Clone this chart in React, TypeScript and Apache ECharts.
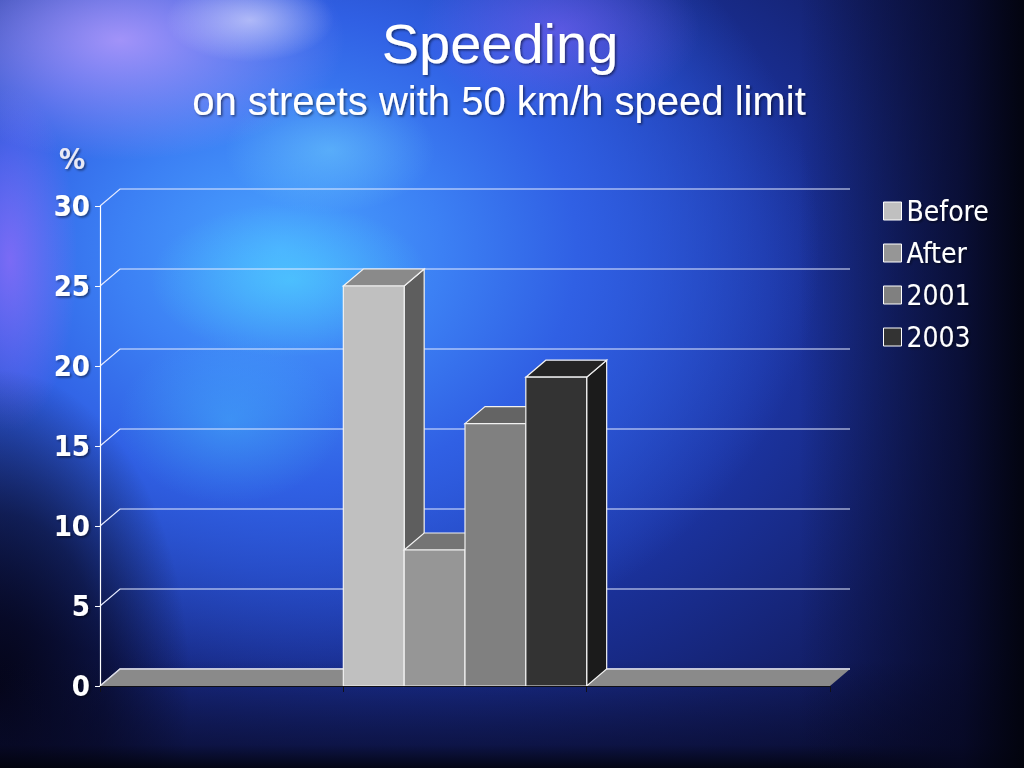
import React, { useEffect, useRef } from "react";
import * as echarts from "echarts";

// ---- data ----
const seriesNames = ["Before", "After", "2001", "2003"];
const seriesValues = [25.0, 8.5, 16.4, 19.3];
const categories = ["left", "streets", "right"];
const barCategoryIndex = 1;
const yTicks = [0, 5, 10, 15, 20, 25, 30];

// ---- styles ----
const frontColors = ["#c0c0c0", "#969696", "#808080", "#333333"];
const topColors = ["#8a8a8a", "#747474", "#646464", "#242424"];
const sideColors = ["#5e5e5e", "#5a5a5a", "#4a4a4a", "#1b1b1b"];
const EDGE = "#f2f2f2";
const DX = 20;
const DY = -17;
const COND = "'DejaVu Sans Condensed', 'Liberation Sans Narrow', 'DejaVu Sans', sans-serif";

export default function App() {
  const ref = useRef<HTMLDivElement>(null);

  useEffect(() => {
    if (!ref.current) return;
    const chart = echarts.init(ref.current, undefined, { renderer: "svg" });

    const barSeries = seriesNames.map((name, i) => ({
      type: "custom",
      name,
      z: 3,
      clip: false,
      itemStyle: { color: frontColors[i] },
      data: [[barCategoryIndex, seriesValues[i]]],
      renderItem: (params: any, api: any) => {
        const cat = api.value(0);
        const v = api.value(1);
        const band = api.size([1, 0])[0];
        const base = api.coord([cat, 0]);
        const top = api.coord([cat, v]);
        const w = band / seriesNames.length;
        const x0 = base[0] - band / 2 + i * w;
        const x1 = x0 + w;
        const yb = base[1];
        const yt = top[1];
        return {
          type: "group",
          children: [
            {
              type: "polygon",
              shape: { points: [[x1, yt], [x1 + DX, yt + DY], [x1 + DX, yb + DY], [x1, yb]] },
              style: { fill: sideColors[i], stroke: EDGE, lineWidth: 1.2 },
            },
            {
              type: "polygon",
              shape: { points: [[x0, yt], [x1, yt], [x1 + DX, yt + DY], [x0 + DX, yt + DY]] },
              style: { fill: topColors[i], stroke: EDGE, lineWidth: 1.2 },
            },
            {
              type: "rect",
              shape: { x: x0, y: yt, width: w, height: yb - yt },
              style: { fill: frontColors[i], stroke: EDGE, lineWidth: 1.2 },
            },
          ],
        };
      },
    }));

    const wallSeries = {
      type: "custom",
      name: "wall",
      z: 1,
      clip: false,
      silent: true,
      data: yTicks.map((v) => [0, v]),
      renderItem: (params: any, api: any) => {
        const cs = params.coordSys;
        const y = api.coord([0, api.value(1)])[1];
        const x = cs.x;
        return {
          type: "polyline",
          shape: { points: [[x, y], [x + DX, y + DY], [x + cs.width + DX, y + DY]] },
          style: { stroke: "#e6ebff", lineWidth: 1.2, fill: null },
        };
      },
    };

    const floorSeries = {
      type: "custom",
      name: "floor",
      z: 2,
      clip: false,
      silent: true,
      data: [[0, 0]],
      renderItem: (params: any, api: any) => {
        const cs = params.coordSys;
        const yb = api.coord([0, 0])[1];
        const x = cs.x;
        const xr = cs.x + cs.width;
        return {
          type: "group",
          children: [
            {
              type: "polygon",
              shape: { points: [[x, yb], [xr, yb], [xr + DX, yb + DY], [x + DX, yb + DY]] },
              style: { fill: "#8a8a8a" },
            },
            {
              type: "polyline",
              shape: { points: [[x, yb], [x + DX, yb + DY], [xr + DX, yb + DY]] },
              style: { stroke: "#dcdce6", lineWidth: 1.5, fill: null },
            },
          ],
        };
      },
    };

    const shadow = {
      textShadowColor: "rgba(0,0,0,0.5)",
      textShadowBlur: 2,
      textShadowOffsetX: 1.5,
      textShadowOffsetY: 1.5,
    };

    chart.setOption({
      animation: false,
      backgroundColor: "transparent",
      grid: { left: 100, right: 194, top: 206, bottom: 82, containLabel: false },
      xAxis: {
        type: "category",
        data: categories,
        z: 5,
        axisLine: { show: true, lineStyle: { color: "#101018", width: 1.2 } },
        axisTick: { show: true, length: 6, lineStyle: { color: "#101018" } },
        axisLabel: { show: false },
        splitLine: { show: false },
      },
      yAxis: {
        type: "value",
        min: 0,
        max: 30,
        interval: 5,
        z: 5,
        axisLine: { show: true, lineStyle: { color: "#ffffff", width: 1.2 } },
        axisTick: { show: true, length: 5, lineStyle: { color: "#ffffff" } },
        axisLabel: {
          color: "#ffffff",
          fontFamily: COND,
          fontWeight: "bold",
          fontSize: 29,
          margin: 10,
          ...shadow,
        },
        splitLine: { show: false },
      },
      legend: {
        data: seriesNames,
        orient: "vertical",
        left: 878,
        top: 191,
        itemWidth: 18,
        itemHeight: 18,
        itemGap: 12,
        icon: "rect",
        itemStyle: { borderColor: "#ffffff", borderWidth: 1 },
        textStyle: {
          color: "#ffffff",
          fontFamily: COND,
          fontSize: 28,
          lineHeight: 30,
          ...shadow,
        },
      },
      graphic: [
        {
          type: "text",
          x: 500,
          y: 43,
          style: {
            text: "Speeding",
            fill: "#ffffff",
            font: "56px 'Liberation Sans', Arial, sans-serif",
            textAlign: "center",
            textVerticalAlign: "middle",
            ...shadow,
          },
        },
        {
          type: "text",
          x: 499,
          y: 101,
          style: {
            text: "on streets with 50 km/h speed limit",
            fill: "#ffffff",
            font: "40px 'Liberation Sans', Arial, sans-serif",
            textAlign: "center",
            textVerticalAlign: "middle",
            ...shadow,
          },
        },
        {
          type: "text",
          x: 72,
          y: 159,
          style: {
            text: "%",
            fill: "#e8e8f4",
            fontFamily: COND,
            fontWeight: "bold",
            fontSize: 29,
            align: "center",
            verticalAlign: "middle",
            ...shadow,
          },
        },
      ],
      series: [wallSeries, floorSeries, ...barSeries],
    });

    return () => chart.dispose();
  }, []);

  const bg = [
    "linear-gradient(to right, rgba(4,6,24,0) 78%, rgba(6,8,34,0.75) 94%, rgba(2,3,12,0.95) 100%)",
    "linear-gradient(to bottom, rgba(4,6,24,0) 86%, rgba(8,10,40,0.6) 97%, rgba(2,3,12,0.9) 100%)",
    "radial-gradient(ellipse 190px 320px at 0px 690px, rgba(4,4,22,0.97), rgba(4,4,22,0.6) 55%, rgba(4,4,22,0) 100%)",
    "radial-gradient(ellipse 200px 110px at 290px 280px, rgba(80,220,255,0.55), rgba(80,220,255,0) 70%)",
    "radial-gradient(ellipse 150px 90px at 330px 150px, rgba(120,220,255,0.45), rgba(120,220,255,0) 70%)",
    "radial-gradient(ellipse 160px 120px at 230px 420px, rgba(70,190,255,0.4), rgba(70,190,255,0) 70%)",
    "radial-gradient(ellipse 120px 60px at 250px 20px, rgba(230,230,255,0.6), rgba(230,230,255,0) 70%)",
    "radial-gradient(ellipse 300px 160px at 120px 40px, rgba(190,160,255,0.8), rgba(190,160,255,0) 75%)",
    "radial-gradient(ellipse 90px 230px at 10px 260px, rgba(170,110,255,0.6), rgba(170,110,255,0) 75%)",
    "radial-gradient(ellipse 200px 120px at 560px 30px, rgba(150,100,255,0.45), rgba(150,100,255,0) 70%)",
    "radial-gradient(ellipse 540px 430px at 280px 250px, #4aa4ff 0%, #3c80f4 30%, #3060e4 55%, rgba(44,80,214,0) 100%)",
    "radial-gradient(ellipse 820px 660px at 400px 300px, #2650d8 0%, #1c35a4 45%, #14216e 72%, #0b1040 100%)",
  ].join(", ");

  return (
    <div
      style={{
        position: "fixed",
        left: 0,
        top: 0,
        width: 1024,
        height: 768,
        background: bg,
        overflow: "hidden",
      }}
    >
      <div ref={ref} style={{ width: 1024, height: 768 }} />
    </div>
  );
}
